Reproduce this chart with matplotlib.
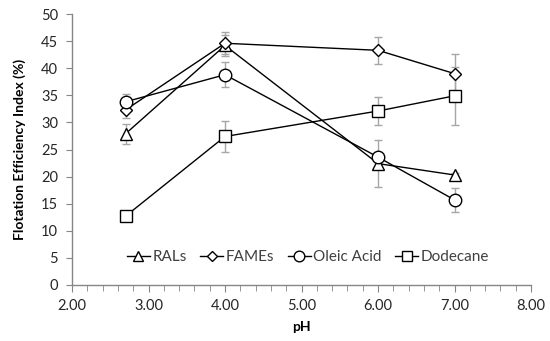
import matplotlib
matplotlib.use("Agg")
import matplotlib.pyplot as plt
from matplotlib.ticker import MultipleLocator, FormatStrFormatter

plt.rcParams['font.family'] = ['Lato', 'DejaVu Sans']

# pH values
ph = [2.7, 4.0, 6.0, 7.0]

# flotation efficiency index (%) and error bars
rals = [27.9, 44.2, 22.4, 20.3]
rals_err = [1.8, 2.0, 4.4, 0.3]
fames = [32.3, 44.6, 43.3, 39.0]
fames_err = [1.4, 2.0, 2.5, 3.6]
oleic = [33.8, 38.8, 23.6, 15.7]
oleic_err = [1.4, 2.3, 0.5, 2.2]
dodecane = [12.7, 27.4, 32.1, 34.9]
dodecane_err = [0.3, 2.8, 2.5, 5.3]

series = [
    ("RALs", rals, rals_err, "^", 8),
    ("FAMEs", fames, fames_err, "D", 6),
    ("Oleic Acid", oleic, oleic_err, "o", 9),
    ("Dodecane", dodecane, dodecane_err, "s", 9),
]

fig = plt.figure(figsize=(5.5, 3.41), dpi=100)
ax = fig.add_axes([72 / 550, 1 - 285 / 341, (531 - 72) / 550, (285 - 14) / 341])

for name, vals, err, mk, ms in series:
    ax.errorbar(ph, vals, yerr=err, fmt="none", ecolor="#a6a6a6",
                elinewidth=1, capsize=3, capthick=1, zorder=1)
    ax.plot(ph, vals, color="black", lw=1, marker=mk, ms=ms,
            mfc="white", mec="black", mew=1, label=name, zorder=3)

ax.set_xlim(2, 8)
ax.set_ylim(0, 50)
ax.xaxis.set_major_locator(MultipleLocator(1))
ax.xaxis.set_minor_locator(MultipleLocator(0.2))
ax.xaxis.set_major_formatter(FormatStrFormatter("%.2f"))
ax.yaxis.set_major_locator(MultipleLocator(5))

for s in ["top", "right"]:
    ax.spines[s].set_visible(False)
for s in ["left", "bottom"]:
    ax.spines[s].set_color("#868686")
    ax.spines[s].set_linewidth(1)

ax.tick_params(axis="both", which="both", direction="out", color="#868686",
               labelsize=10.5, labelcolor="#262626")
ax.tick_params(axis="x", which="major", length=5, pad=5)
ax.tick_params(axis="x", which="minor", length=4)
ax.tick_params(axis="y", length=4, pad=6)

ax.set_xlabel("pH", fontsize=10, fontweight="bold", labelpad=6)
ax.set_ylabel("Flotation Efficiency Index (%)", fontsize=10, fontweight="bold", labelpad=11)

ax.legend(loc="center", bbox_to_anchor=(0.514, 0.103), ncol=4, frameon=False,
          fontsize=11, handlelength=1.5, handletextpad=0.15, columnspacing=0.9,
          markerscale=0.85, labelcolor="#404040", borderpad=0)

fig.savefig("out.png", dpi=100)
